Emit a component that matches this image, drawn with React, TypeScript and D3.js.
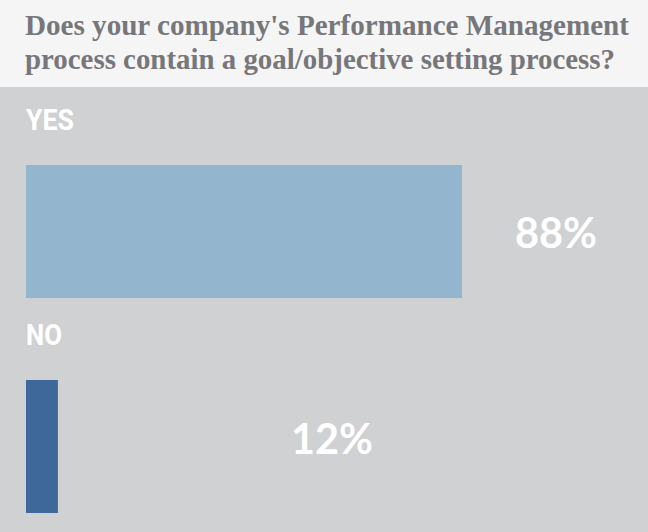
import React from "react";
import * as d3 from "d3";

const categories = ["YES", "NO"];
const values = [88, 12];
const valueLabels = ["88%", "12%"];
const titleLines = [
  "Does your company's Performance Management",
  "process contain a goal/objective setting process?",
];

const W = 648;
const H = 532;
const barColors = ["#93b5cd", "#3d6899"];

export default function App() {
  const x = d3.scaleLinear().domain([6, 88]).range([26, 462]);
  const y = d3.scaleBand<string>().domain(categories).range([165, 513]).paddingInner(0.3814).paddingOuter(0);
  const bw = y.bandwidth();
  const labelX = [515, 291];
  const labelDy = [83, 74];
  return (
    <div style={{ position: "fixed", left: 0, top: 0, width: W, height: H, overflow: "hidden" }}>
      <svg width={W} height={H} style={{ display: "block" }}>
        <rect x={0} y={0} width={W} height={87} fill="#f5f5f5" />
        <rect x={0} y={87} width={W} height={H - 87} fill="#d0d1d3" />
        {titleLines.map((t, i) => (
          <text
            key={i}
            x={25}
            y={35 + i * 34}
            fill="#77777b"
            fontFamily="'Liberation Serif', serif"
            fontWeight="bold"
            fontSize={29.5}
            textLength={i === 0 ? 604 : 590}
            lengthAdjust="spacingAndGlyphs"
          >
            {t}
          </text>
        ))}
        {categories.map((c, i) => {
          const by = y(c) as number;
          return (
            <g key={c}>
              <text
                x={26}
                y={by - 35}
                fill="#ffffff"
                fontFamily="Roboto, sans-serif"
                fontWeight="bold"
                fontSize={29}
                textLength={c === "YES" ? 48 : 36}
                lengthAdjust="spacingAndGlyphs"
              >
                {c}
              </text>
              <rect x={x(6)} y={by} width={x(values[i]) - x(6)} height={bw} fill={barColors[i]} />
              <text
                x={labelX[i]}
                y={by + labelDy[i]}
                fill="#ffffff"
                fontFamily="Lato, sans-serif"
                fontWeight="bold"
                fontSize={42}
                textLength={82}
                lengthAdjust="spacingAndGlyphs"
              >
                {valueLabels[i]}
              </text>
            </g>
          );
        })}
      </svg>
    </div>
  );
}
